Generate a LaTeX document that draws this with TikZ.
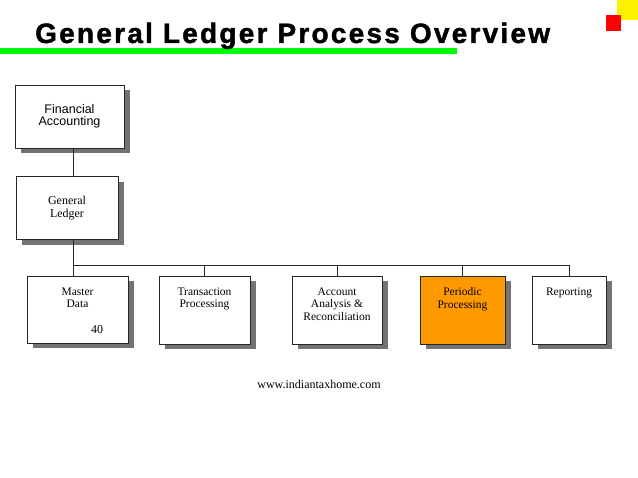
\documentclass[tikz,border=0pt]{standalone}
\usepackage{fontspec}
\setmainfont{Liberation Serif}
\setsansfont{Liberation Sans}
\newfontfamily\ttlfont{Liberation Sans Bold}[FakeBold=1.5,LetterSpace=8]
\usetikzlibrary{positioning,shadows}
\definecolor{ttlgreen}{HTML}{00FF00}
\definecolor{ppfill}{HTML}{FF9900}
\tikzset{
  box/.style={rectangle,draw=black!85,fill=white,line width=0.8pt,inner sep=0pt,
    drop shadow={shadow xshift=5.5pt,shadow yshift=-5.5pt,fill=black!55,opacity=1}},
  boxlbl/.style={anchor=north,align=center,font=\fontsize{11.5}{12.5}\selectfont,inner sep=0pt,yshift=-12pt},
  link/.style={draw=black!85,line width=0.8pt},
}
\begin{document}
\begin{tikzpicture}[x=1pt,y=-1pt]
  \useasboundingbox (0,0) rectangle (638,478);
  % title bar
  \fill[yellow] (617,0) rectangle (638,20);
  \fill[red] (606,15) rectangle (621,31);
  \fill[ttlgreen] (0,48) rectangle (457,54);
  \node[anchor=base west,inner sep=0pt,font=\ttlfont\fontsize{28}{30}\selectfont] (title) at (35,43) {General Ledger Process Overview};
  % upper boxes
  \node[box,minimum width=109pt,minimum height=63pt,align=center,font=\sffamily\fontsize{12.5}{12.5}\selectfont] (fa) at (69.5,116.5) {Financial\\Accounting};
  \node[box,minimum width=102pt,minimum height=63pt,align=center,font=\fontsize{12}{13}\selectfont] (gl) at (67,208) {General\\Ledger};
  % lower boxes
  \node[box,minimum width=101pt,minimum height=67pt,label={[boxlbl]north:Master\\Data}] (md) at (77.5,309.5) {};
  \node[box,minimum width=91pt,minimum height=68pt,label={[boxlbl]north:Transaction\\Processing}] (tp) at (204.5,310) {};
  \node[box,minimum width=90pt,minimum height=68pt,label={[boxlbl]north:Account\\Analysis \&\\Reconciliation}] (aa) at (337,310) {};
  \node[box,fill=ppfill,minimum width=85pt,minimum height=68pt,label={[boxlbl]north:Periodic\\Processing}] (pp) at (462.5,310) {};
  \node[box,minimum width=74pt,minimum height=68pt,label={[boxlbl]north:Reporting}] (rp) at (569,310) {};
  \node[inner sep=0pt,font=\fontsize{12}{12}\selectfont] (num) at (97,330) {40};
  % connectors
  \coordinate (trunk) at (73,265);
  \draw[link] (fa.south -| trunk) -- (gl.north -| trunk);
  \draw[link] (gl.south -| trunk) -- (md.north -| trunk);
  \draw[link] (trunk) -- (trunk -| rp.north) -- (rp.north);
  \foreach \b in {tp,aa,pp}
    \draw[link] (trunk -| \b.north) -- (\b.north);
  % footer
  \node[font=\fontsize{12}{12}\selectfont] (web) at (319,384) {www.indiantaxhome.com};
\end{tikzpicture}
\end{document}
